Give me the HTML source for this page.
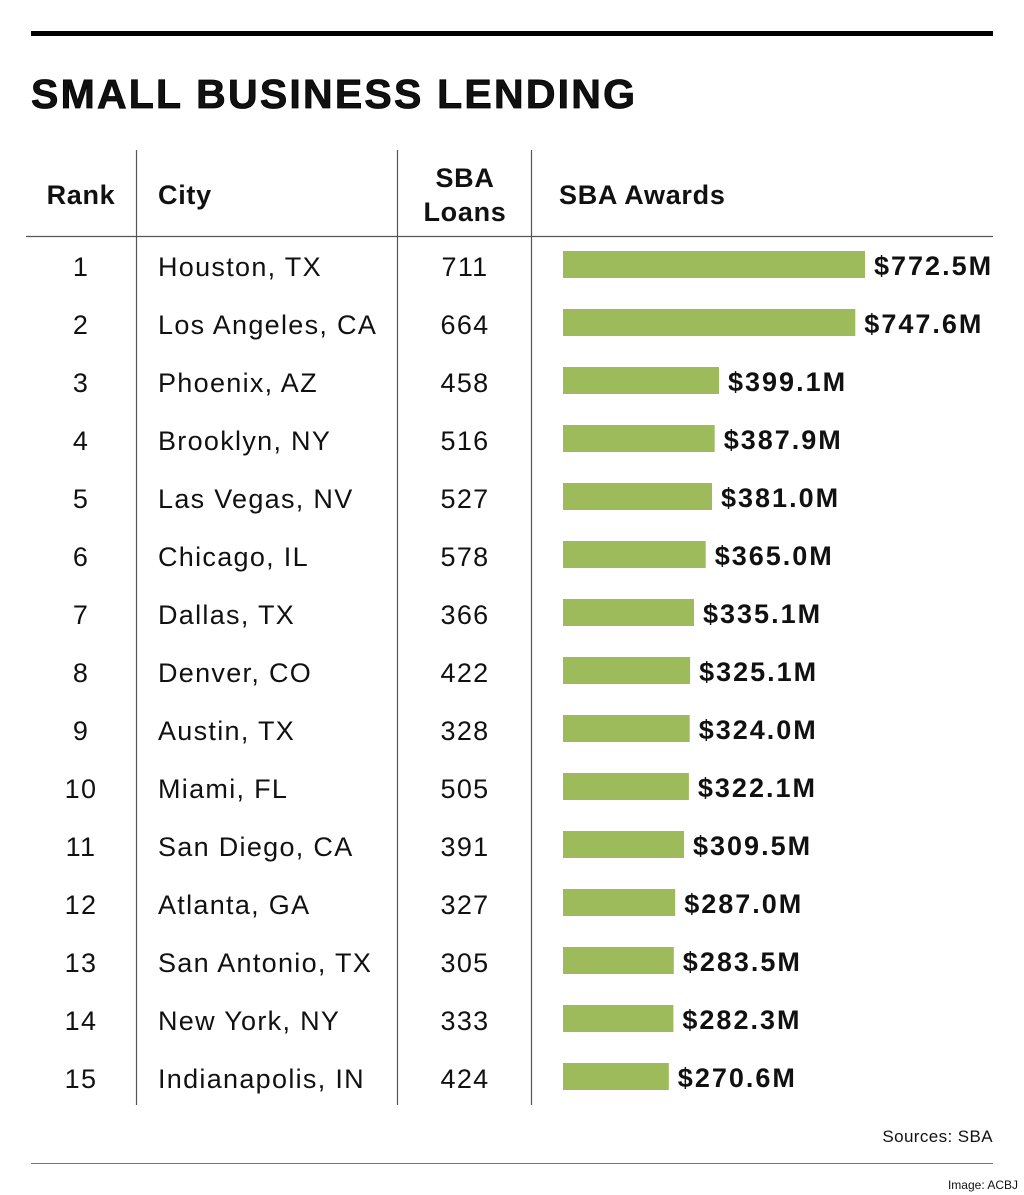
<!DOCTYPE html>
<html><head><meta charset="utf-8"><style>
html,body{margin:0;padding:0;background:#fff;}
svg{display:block;}
text{font-family:"Liberation Sans",Arial,sans-serif;fill:#111;}
.b{font-weight:bold;}
.c{text-anchor:middle;}
</style></head><body>
<svg width="1024" height="1195" viewBox="0 0 1024 1195" xmlns="http://www.w3.org/2000/svg">
<rect x="31" y="31" width="962" height="5" fill="#000"/>
<text x="31" y="108" class="b" font-size="41" textLength="604" lengthAdjust="spacing" stroke="#000" stroke-width="0.8" fill="#000">SMALL BUSINESS LENDING</text>
<line x1="136.5" y1="150" x2="136.5" y2="1105" stroke="#555" stroke-width="1.2"/>
<line x1="397.5" y1="150" x2="397.5" y2="1105" stroke="#555" stroke-width="1.2"/>
<line x1="531.5" y1="150" x2="531.5" y2="1105" stroke="#555" stroke-width="1.2"/>
<line x1="26" y1="236.5" x2="993" y2="236.5" stroke="#555" stroke-width="1.2"/>
<g letter-spacing="0.7">
<text x="81" y="204" class="b c" font-size="27">Rank</text>
<text x="158" y="204" class="b" font-size="27">City</text>
<text x="465" y="187" class="b c" font-size="27">SBA</text>
<text x="465" y="221" class="b c" font-size="27">Loans</text>
<text x="559" y="204" class="b" font-size="27">SBA Awards</text>
</g>

<g font-size="27" letter-spacing="1.3">
<text x="81" y="276" class="c">1</text><text x="158" y="276">Houston, TX</text><text x="465" y="276" class="c">711</text>
<text x="81" y="334" class="c">2</text><text x="158" y="334">Los Angeles, CA</text><text x="465" y="334" class="c">664</text>
<text x="81" y="392" class="c">3</text><text x="158" y="392">Phoenix, AZ</text><text x="465" y="392" class="c">458</text>
<text x="81" y="450" class="c">4</text><text x="158" y="450">Brooklyn, NY</text><text x="465" y="450" class="c">516</text>
<text x="81" y="508" class="c">5</text><text x="158" y="508">Las Vegas, NV</text><text x="465" y="508" class="c">527</text>
<text x="81" y="566" class="c">6</text><text x="158" y="566">Chicago, IL</text><text x="465" y="566" class="c">578</text>
<text x="81" y="624" class="c">7</text><text x="158" y="624">Dallas, TX</text><text x="465" y="624" class="c">366</text>
<text x="81" y="682" class="c">8</text><text x="158" y="682">Denver, CO</text><text x="465" y="682" class="c">422</text>
<text x="81" y="740" class="c">9</text><text x="158" y="740">Austin, TX</text><text x="465" y="740" class="c">328</text>
<text x="81" y="798" class="c">10</text><text x="158" y="798">Miami, FL</text><text x="465" y="798" class="c">505</text>
<text x="81" y="856" class="c">11</text><text x="158" y="856">San Diego, CA</text><text x="465" y="856" class="c">391</text>
<text x="81" y="914" class="c">12</text><text x="158" y="914">Atlanta, GA</text><text x="465" y="914" class="c">327</text>
<text x="81" y="972" class="c">13</text><text x="158" y="972">San Antonio, TX</text><text x="465" y="972" class="c">305</text>
<text x="81" y="1030" class="c">14</text><text x="158" y="1030">New York, NY</text><text x="465" y="1030" class="c">333</text>
<text x="81" y="1088" class="c">15</text><text x="158" y="1088">Indianapolis, IN</text><text x="465" y="1088" class="c">424</text>
</g>

<g fill="#9dbb5a">
<rect x="563" y="251" width="302.0" height="27"/>
<rect x="563" y="309" width="292.3" height="27"/>
<rect x="563" y="367" width="156.0" height="27"/>
<rect x="563" y="425" width="151.7" height="27"/>
<rect x="563" y="483" width="149.0" height="27"/>
<rect x="563" y="541" width="142.7" height="27"/>
<rect x="563" y="599" width="131.0" height="27"/>
<rect x="563" y="657" width="127.1" height="27"/>
<rect x="563" y="715" width="126.7" height="27"/>
<rect x="563" y="773" width="125.9" height="27"/>
<rect x="563" y="831" width="121.0" height="27"/>
<rect x="563" y="889" width="112.2" height="27"/>
<rect x="563" y="947" width="110.8" height="27"/>
<rect x="563" y="1005" width="110.4" height="27"/>
<rect x="563" y="1063" width="105.8" height="27"/>
</g>

<g font-size="27" class="b" letter-spacing="2">
<text x="874.0" y="275">$772.5M</text>
<text x="864.3" y="333">$747.6M</text>
<text x="728.0" y="391">$399.1M</text>
<text x="723.7" y="449">$387.9M</text>
<text x="721.0" y="507">$381.0M</text>
<text x="714.7" y="565">$365.0M</text>
<text x="703.0" y="623">$335.1M</text>
<text x="699.1" y="681">$325.1M</text>
<text x="698.7" y="739">$324.0M</text>
<text x="697.9" y="797">$322.1M</text>
<text x="693.0" y="855">$309.5M</text>
<text x="684.2" y="913">$287.0M</text>
<text x="682.8" y="971">$283.5M</text>
<text x="682.4" y="1029">$282.3M</text>
<text x="677.8" y="1087">$270.6M</text>
</g>

<text x="993" y="1142" font-size="17" text-anchor="end" letter-spacing="0.4">Sources: SBA</text>
<line x1="31" y1="1163.5" x2="993" y2="1163.5" stroke="#777" stroke-width="1"/>
<text x="1018" y="1189" font-size="12" text-anchor="end" fill="#333">Image: ACBJ</text>
</svg>
</body></html>
